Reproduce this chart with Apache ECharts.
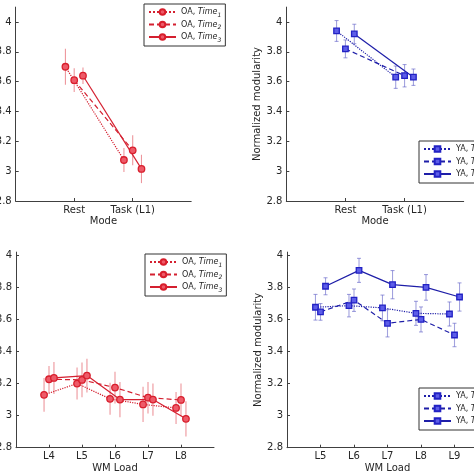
<!DOCTYPE html>
<html><head><meta charset="utf-8">
<script src="https://cdn.jsdelivr.net/npm/echarts@6/dist/echarts.min.js"></script>
<style>html,body{margin:0;padding:0;background:#fff}#c{width:474px;height:474px}</style>
</head><body><div id="c"></div>
<script>
// ---------- data ----------
const modeCats = ['Rest', 'Task (L1)'];
const loadCatsOA = ['L4', 'L5', 'L6', 'L7', 'L8'];
const loadCatsYA = ['L5', 'L6', 'L7', 'L8', 'L9'];
const yTicks = [2.8, 3.0, 3.2, 3.4, 3.6, 3.8, 4.0];
const timeIdx = ['1', '2', '3'];

// OA, Mode
const oaModeT1 = [3.70, 3.075];   const oaModeT1Err = [0.12, 0.08];
const oaModeT2 = [3.61, 3.14];    const oaModeT2Err = [0.08, 0.10];
const oaModeT3 = [3.64, 3.015];   const oaModeT3Err = [0.055, 0.095];
// YA, Mode
const yaModeT1 = [3.94, 3.63];    const yaModeT1Err = [0.07, 0.075];
const yaModeT2 = [3.82, 3.64];    const yaModeT2Err = [0.06, 0.075];
const yaModeT3 = [3.92, 3.63];    const yaModeT3Err = [0.065, 0.055];
// OA, WM Load
const oaLoadT1 = [3.13, 3.20, 3.105, 3.07, 3.048];  const oaLoadT1Err = [0.105, 0.10, 0.10, 0.11, 0.10];
const oaLoadT2 = [3.227, 3.223, 3.175, 3.112, 3.098]; const oaLoadT2Err = [0.083, 0.108, 0.099, 0.098, 0.102];
const oaLoadT3 = [3.235, 3.25, 3.10, 3.10, 2.98];   const oaLoadT3Err = [0.10, 0.105, 0.11, 0.10, 0.11];
// YA, WM Load
const yaLoadT1 = [3.676, 3.686, 3.672, 3.638, 3.634]; const yaLoadT1Err = [0.08, 0.07, 0.08, 0.075, 0.075];
const yaLoadT2 = [3.647, 3.72, 3.576, 3.60, 3.503];   const yaLoadT2Err = [0.052, 0.07, 0.085, 0.078, 0.073];
const yaLoadT3 = [3.807, 3.906, 3.817, 3.80, 3.74];   const yaLoadT3Err = [0.053, 0.075, 0.088, 0.08, 0.088];

// ---------- styling / layout ----------
const FONT = 'DejaVu Sans';
const TXT = '#262626';
const AX = '#404040';
const offsets = [-0.15, 0, 0.15];
const lineTypes = ['dotted', [5, 3], 'solid'];
const RED = {line: '#d42030', fill: '#ee5a68', edge: '#d81e2c', err: 'rgba(225,80,90,0.6)', symbol: 'circle', size: 6.5, cap: 0};
const BLUE = {line: '#1e1ea8', fill: '#5d5de8', edge: '#2222c4', err: 'rgba(100,100,200,0.6)', symbol: 'rect', size: 5.5, cap: 2};

const panels = [
  {grid: {left: 15.7, top: 7.1, width: 175.5, height: 193.9}, ymax: 4.1, xmax: 3, cats: modeCats, group: 'OA',
   vals: [oaModeT1, oaModeT2, oaModeT3], errs: [oaModeT1Err, oaModeT2Err, oaModeT3Err], c: RED,
   xname: 'Mode', yname: '', legend: {left: 144, top: 4}},
  {grid: {left: 286.3, top: 7.1, width: 177.4, height: 193.9}, ymax: 4.1, xmax: 3, cats: modeCats, group: 'YA',
   vals: [yaModeT1, yaModeT2, yaModeT3], errs: [yaModeT1Err, yaModeT2Err, yaModeT3Err], c: BLUE,
   xname: 'Mode', yname: 'Normalized modularity', legend: {left: 419, top: 141}},
  {grid: {left: 16, top: 252.1, width: 198, height: 195.6}, ymax: 4.02, xmax: 6, cats: loadCatsOA, group: 'OA',
   vals: [oaLoadT1, oaLoadT2, oaLoadT3], errs: [oaLoadT1Err, oaLoadT2Err, oaLoadT3Err], c: RED,
   xname: 'WM Load', yname: '', legend: {left: 145, top: 254}},
  {grid: {left: 287, top: 252.1, width: 201, height: 195.6}, ymax: 4.02, xmax: 6, cats: loadCatsYA, group: 'YA',
   vals: [yaLoadT1, yaLoadT2, yaLoadT3], errs: [yaLoadT1Err, yaLoadT2Err, yaLoadT3Err], c: BLUE,
   xname: 'WM Load', yname: 'Normalized modularity', legend: {left: 419, top: 388}}
];

const option = {
  animation: false,
  backgroundColor: '#fff',
  textStyle: {fontFamily: FONT},
  grid: [], xAxis: [], yAxis: [], series: [], legend: []
};

const fmtY = v => String(+(+v).toFixed(1));

panels.forEach((p, pi) => {
  option.grid.push(Object.assign({outerBoundsMode: 'none', containLabel: false}, p.grid));
  const xTickVals = p.cats.map((_, i) => i + 1);
  option.xAxis.push({
    type: 'value', gridIndex: pi, min: 0, max: p.xmax,
    name: p.xname, nameLocation: 'middle', nameGap: 15.5,
    nameTextStyle: {fontFamily: FONT, fontSize: 10, color: TXT},
    axisLine: {show: true, lineStyle: {color: AX, width: 1}},
    axisTick: {show: true, inside: true, length: 3, lineStyle: {color: AX}, customValues: xTickVals},
    axisLabel: {show: true, margin: 4, fontFamily: FONT, fontSize: 10, color: TXT, customValues: xTickVals,
      formatter: v => p.cats[Math.round(v) - 1] || ''},
    splitLine: {show: false}
  });
  option.yAxis.push({
    type: 'value', gridIndex: pi, min: 2.8, max: p.ymax,
    name: p.yname, nameLocation: 'middle', nameGap: 22,
    nameTextStyle: {fontFamily: FONT, fontSize: 10, color: TXT},
    axisLine: {show: true, lineStyle: {color: AX, width: 1}},
    axisTick: {show: true, inside: true, length: 3, lineStyle: {color: AX}, customValues: yTicks},
    axisLabel: {show: true, margin: 4, fontFamily: FONT, fontSize: 10, color: TXT, customValues: yTicks, formatter: fmtY},
    splitLine: {show: false}
  });
  const names = [];
  p.vals.forEach((vals, t) => {
    const name = p.group + '|' + pi + '|' + timeIdx[t];
    names.push(name);
    const pts = vals.map((v, i) => [i + 1 + offsets[t], v]);
    const ebs = vals.map((v, i) => [i + 1 + offsets[t], v, p.errs[t][i]]);
    option.series.push({
      type: 'custom', xAxisIndex: pi, yAxisIndex: pi, z: 1, silent: true,
      encode: {x: 0, y: 1},
      data: ebs,
      renderItem: (params, api) => {
        const x = api.value(0), y = api.value(1), e = api.value(2);
        const a = api.coord([x, y + e]), b = api.coord([x, y - e]);
        const st = {stroke: p.c.err, lineWidth: 1.1};
        const ch = [{type: 'line', shape: {x1: a[0], y1: a[1], x2: b[0], y2: b[1]}, style: st}];
        if (p.c.cap) {
          ch.push({type: 'line', shape: {x1: a[0] - p.c.cap, y1: a[1], x2: a[0] + p.c.cap, y2: a[1]}, style: st});
          ch.push({type: 'line', shape: {x1: b[0] - p.c.cap, y1: b[1], x2: b[0] + p.c.cap, y2: b[1]}, style: st});
        }
        return {type: 'group', children: ch};
      }
    });
    option.series.push({
      type: 'line', name, xAxisIndex: pi, yAxisIndex: pi, z: 3,
      data: pts, symbol: p.c.symbol, symbolSize: p.c.size, showSymbol: true,
      lineStyle: {color: p.c.line, width: 1.2, type: lineTypes[t]},
      itemStyle: {color: p.c.fill, borderColor: p.c.edge, borderWidth: 1.3},
      emphasis: {disabled: true}
    });
  });
  option.legend.push({
    data: names, orient: 'vertical', left: p.legend.left, top: p.legend.top,
    backgroundColor: '#fff', borderColor: '#333', borderWidth: 1, borderRadius: 0,
    padding: [4, 4, 3, 4], itemWidth: 27, itemHeight: 7, itemGap: 2.5,
    selectedMode: false,
    formatter: n => {
      const parts = n.split('|');
      return '{n|' + parts[0] + ', }{t|Time}{s|' + parts[2] + '}';
    },
    textStyle: {
      fontFamily: FONT, color: TXT, fontSize: 8,
      rich: {
        n: {fontFamily: FONT, fontSize: 8, color: TXT, lineHeight: 12},
        t: {fontFamily: FONT, fontSize: 8, fontStyle: 'italic', color: TXT, lineHeight: 12},
        s: {fontFamily: FONT, fontSize: 6, fontStyle: 'italic', color: TXT, verticalAlign: 'bottom', lineHeight: 8}
      }
    }
  });
});

const chart = echarts.init(document.getElementById('c'), null, {renderer: 'canvas', width: 474, height: 474});
chart.setOption(option);
</script>
</body></html>
